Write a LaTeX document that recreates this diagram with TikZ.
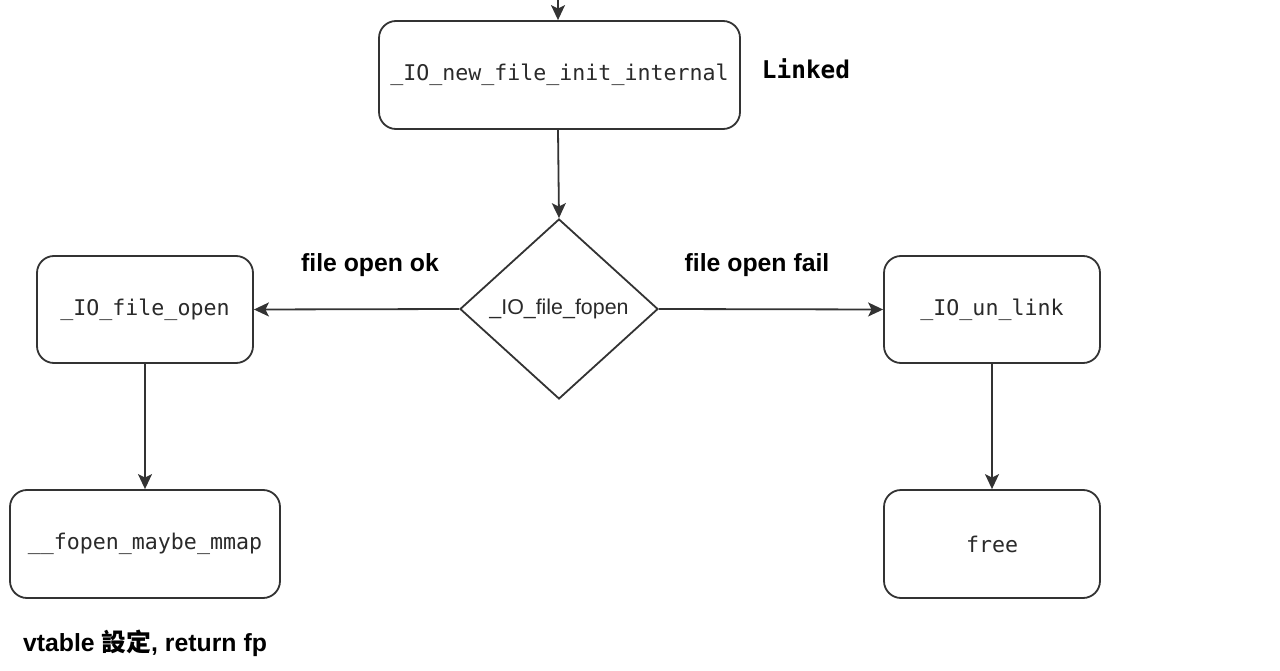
\documentclass[tikz,border=0pt]{standalone}
\usepackage{fontspec}
\setmainfont{Liberation Sans}
\setmonofont{DejaVu Sans Mono}
\newfontfamily\cjkfont{Noto Sans CJK TC}
\usetikzlibrary{shapes.geometric,arrows.meta}
\definecolor{linegray}{HTML}{333333}
\definecolor{textgray}{HTML}{2A2A2A}
\tikzset{
  box/.style={draw=linegray, line width=1.8pt, rounded corners=17pt, fill=white,
    inner sep=0pt, text=textgray, font=\ttfamily\fontsize{21.6}{24}\selectfont},
  decision/.style={draw=linegray, line width=1.8pt, diamond, aspect=1.1, inner sep=0pt,
    minimum width=198pt, minimum height=180pt, text=textgray,
    font=\fontsize{21.4}{24}\selectfont},
  conn/.style={draw=linegray, line width=1.8pt, -{Stealth[length=15pt,width=14pt,inset=3.5pt]}},
  lbl/.style={font=\bfseries\fontsize{24.8}{28}\selectfont, text=black, inner sep=0pt},
  monolbl/.style={font=\ttfamily\bfseries\fontsize{24.4}{28}\selectfont, text=black, inner sep=0pt}
}
\begin{document}
\begin{tikzpicture}[x=1pt,y=-1pt]
\useasboundingbox (0,0) rectangle (1280,671);
\node[box, minimum width=361pt, minimum height=108pt] (init) at (559.5,75) {\_IO\_new\_file\_init\_internal};
\node[decision] (fopen) at (559,309) {\_IO\_file\_fopen};
\node[box, minimum width=216pt, minimum height=107pt] (open) at (145,309.5) {\_IO\_file\_open};
\node[box, minimum width=216pt, minimum height=107pt] (unlink) at (992,309.5) {\_IO\_un\_link};
\node[box, minimum width=270pt, minimum height=108pt] (mmap) at (145,544) {\_\_fopen\_maybe\_mmap};
\node[box, minimum width=216pt, minimum height=108pt] (free) at (992,544) {free};
\coordinate (top) at (558,0);
\node[monolbl] (linked) at (806,69) {Linked};
\node[lbl] (ok) at (370,265) {file open ok};
\node[lbl] (fail) at (757,265) {file open fail};
\node[lbl] (vt) at (145,643) {vtable {\cjkfont 設定}, return fp};
\draw[conn] (top) -- (top |- init.north);
\draw[conn] (init.south -| 558,0) -- (fopen.north);
\draw[conn] (fopen.west) -- (open.east);
\draw[conn] (fopen.east) -- (unlink.west);
\draw[conn] (open.south) -- (mmap.north);
\draw[conn] (unlink.south) -- (free.north);
\end{tikzpicture}
\end{document}
